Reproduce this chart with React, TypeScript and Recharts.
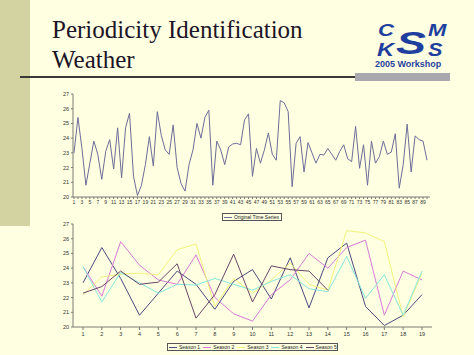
import { LineChart, Line, XAxis, YAxis } from "recharts";

// readings off the weather series, split into its five seasons of 19 points
const season1 = [23.0, 25.4, 23.3, 20.8, 22.3, 23.8, 22.9, 21.2, 23.1, 23.9, 21.9, 24.7, 21.3, 24.7, 25.7, 21.4, 20.1, 20.8, 22.2];
const season2 = [24.1, 22.1, 25.8, 24.2, 23.2, 22.9, 24.9, 22.0, 20.9, 20.4, 22.2, 23.2, 25.0, 24.0, 25.4, 25.9, 20.8, 23.8, 23.2];
const season3 = [22.2, 23.4, 23.6, 23.65, 23.55, 25.25, 25.65, 21.4, 23.3, 22.3, 23.2, 24.35, 22.9, 22.5, 26.55, 26.4, 25.8, 20.7, 23.65];
const season4 = [24.1, 21.7, 23.7, 23.0, 22.3, 22.9, 22.85, 23.3, 22.9, 22.5, 23.1, 23.55, 22.6, 22.4, 24.8, 21.95, 23.55, 20.8, 23.8];
const season5 = [22.3, 22.75, 23.8, 22.9, 23.05, 24.3, 20.6, 22.2, 24.95, 21.7, 24.15, 23.9, 23.8, 22.5];

const seasonNames = ["Season 1", "Season 2", "Season 3", "Season 4", "Season 5"];
const seasonColors = ["#4a4a82", "#d77ad7", "#f2f27a", "#86e6dc", "#6a4468"];
const yTicks = [20, 21, 22, 23, 24, 25, 26, 27];

const seasons = [season1, season2, season3, season4, season5];
const original = seasons.flat();
const seriesRows = original.map((v, i) => ({ t: i + 1, v }));
const seasonRows = season1.map((_, i) => {
    const row: Record<string, number | undefined> = { x: i + 1 };
    seasons.forEach((s, k) => (row["s" + (k + 1)] = s[i]));
    return row;
});

const axisColor = "#7a7a7a";
const tickFont = { fontSize: 5.5, fill: "#333", fontFamily: "Liberation Sans" };
const bg = "#FFFFE1";
const logoBlue = "#1f3f9f";

const legendBox = {
    position: "absolute" as const,
    height: 8,
    border: "1px solid #555",
    fontFamily: "Liberation Sans",
    fontSize: 5,
    lineHeight: "8px",
    color: "#222",
    display: "flex",
    alignItems: "center",
    whiteSpace: "nowrap" as const,
    boxSizing: "border-box" as const,
    overflow: "hidden",
};

function LegendSample({ color, label }: { color: string; label: string }) {
    return (
        <span style={{ display: "inline-flex", alignItems: "center", marginLeft: 1, marginRight: 2 }}>
            <span style={{ display: "inline-block", width: 8, height: 1, background: color, marginRight: 2 }} />
            {label}
        </span>
    );
}

function Letter({ ch, left, top, size, sx }: { ch: string; left: number; top: number; size: number; sx: number }) {
    return (
        <span
            style={{
                position: "absolute",
                left,
                top,
                fontSize: size,
                lineHeight: 1,
                fontStyle: "italic",
                transform: `scaleX(${sx})`,
                transformOrigin: "left top",
            }}
        >
            {ch}
        </span>
    );
}

export default function App() {
    return (
        <div style={{ position: "absolute", left: 0, top: 0, width: 474, height: 355, background: bg, overflow: "hidden" }}>
            <div style={{ position: "absolute", left: 0, top: 0, width: 30, height: 226, background: "#d3d3a2" }} />

            <div style={{ position: "absolute", left: 52, top: 15, fontFamily: "Liberation Serif", fontSize: 25, lineHeight: "30px", color: "#1c1428", whiteSpace: "nowrap" }}>
                Periodicity Identification
                <br />
                Weather
            </div>
            <div style={{ position: "absolute", left: 20, top: 76, width: 336, height: 1.5, background: "#3a3a3a" }} />
            <div style={{ position: "absolute", left: 355, top: 73, width: 95, height: 8, background: "#a9a8ae" }} />

            <div style={{ position: "absolute", left: 0, top: 0, fontFamily: "Liberation Sans", fontWeight: "bold", color: logoBlue }}>
                <Letter ch="C" left={378} top={22} size={17} sx={1.3} />
                <Letter ch="M" left={428} top={22} size={17} sx={1.3} />
                <Letter ch="S" left={396} top={27} size={32} sx={1.4} />
                <Letter ch="K" left={377} top={40} size={19} sx={1.25} />
                <Letter ch="S" left={428} top={41} size={18} sx={1.2} />
                <span style={{ position: "absolute", left: 375, top: 60, fontSize: 9, lineHeight: 1, whiteSpace: "nowrap" }}>2005 Workshop</span>
            </div>

            <div style={{ position: "absolute", left: 50, top: 88 }}>
                <LineChart width={390} height={124} data={seriesRows} margin={{ top: 6, right: 10, bottom: 0, left: 3 }}>
                    <XAxis
                        dataKey="t"
                        interval={0}
                        height={15}
                        padding={{ left: 1, right: 3 }}
                        tick={{ ...tickFont, fontSize: 5 }}
                        tickSize={2}
                        tickMargin={1}
                        tickFormatter={(v: number) => (v % 2 === 1 ? String(v) : "")}
                        stroke={axisColor}
                    />
                    <YAxis domain={[20, 27]} ticks={yTicks} width={20} tick={tickFont} tickSize={2} stroke={axisColor} />
                    <Line type="linear" dataKey="v" stroke="#6d6d9a" strokeWidth={1} dot={false} isAnimationActive={false} />
                </LineChart>
            </div>
            <div style={{ ...legendBox, left: 222, top: 213, width: 60 }}>
                <LegendSample color="#6d6d9a" label="Original Time Series" />
            </div>

            <div style={{ position: "absolute", left: 50, top: 218 }}>
                <LineChart width={390} height={124} data={seasonRows} margin={{ top: 6, right: 8, bottom: 0, left: 3 }}>
                    <XAxis dataKey="x" interval={0} height={15} padding={{ left: 10, right: 10 }} tick={tickFont} tickSize={3} tickMargin={2} stroke={axisColor} />
                    <YAxis domain={[20, 27]} ticks={yTicks} width={20} tick={tickFont} tickSize={2} stroke={axisColor} />
                    {seasonNames.map((name, k) => (
                        <Line key={name} type="linear" dataKey={"s" + (k + 1)} name={name} stroke={seasonColors[k]} strokeWidth={1} dot={false} isAnimationActive={false} />
                    ))}
                </LineChart>
            </div>
            <div style={{ ...legendBox, left: 167, top: 343, width: 171 }}>
                {seasonNames.map((name, k) => (
                    <LegendSample key={name} color={seasonColors[k]} label={name} />
                ))}
            </div>
        </div>
    );
}
